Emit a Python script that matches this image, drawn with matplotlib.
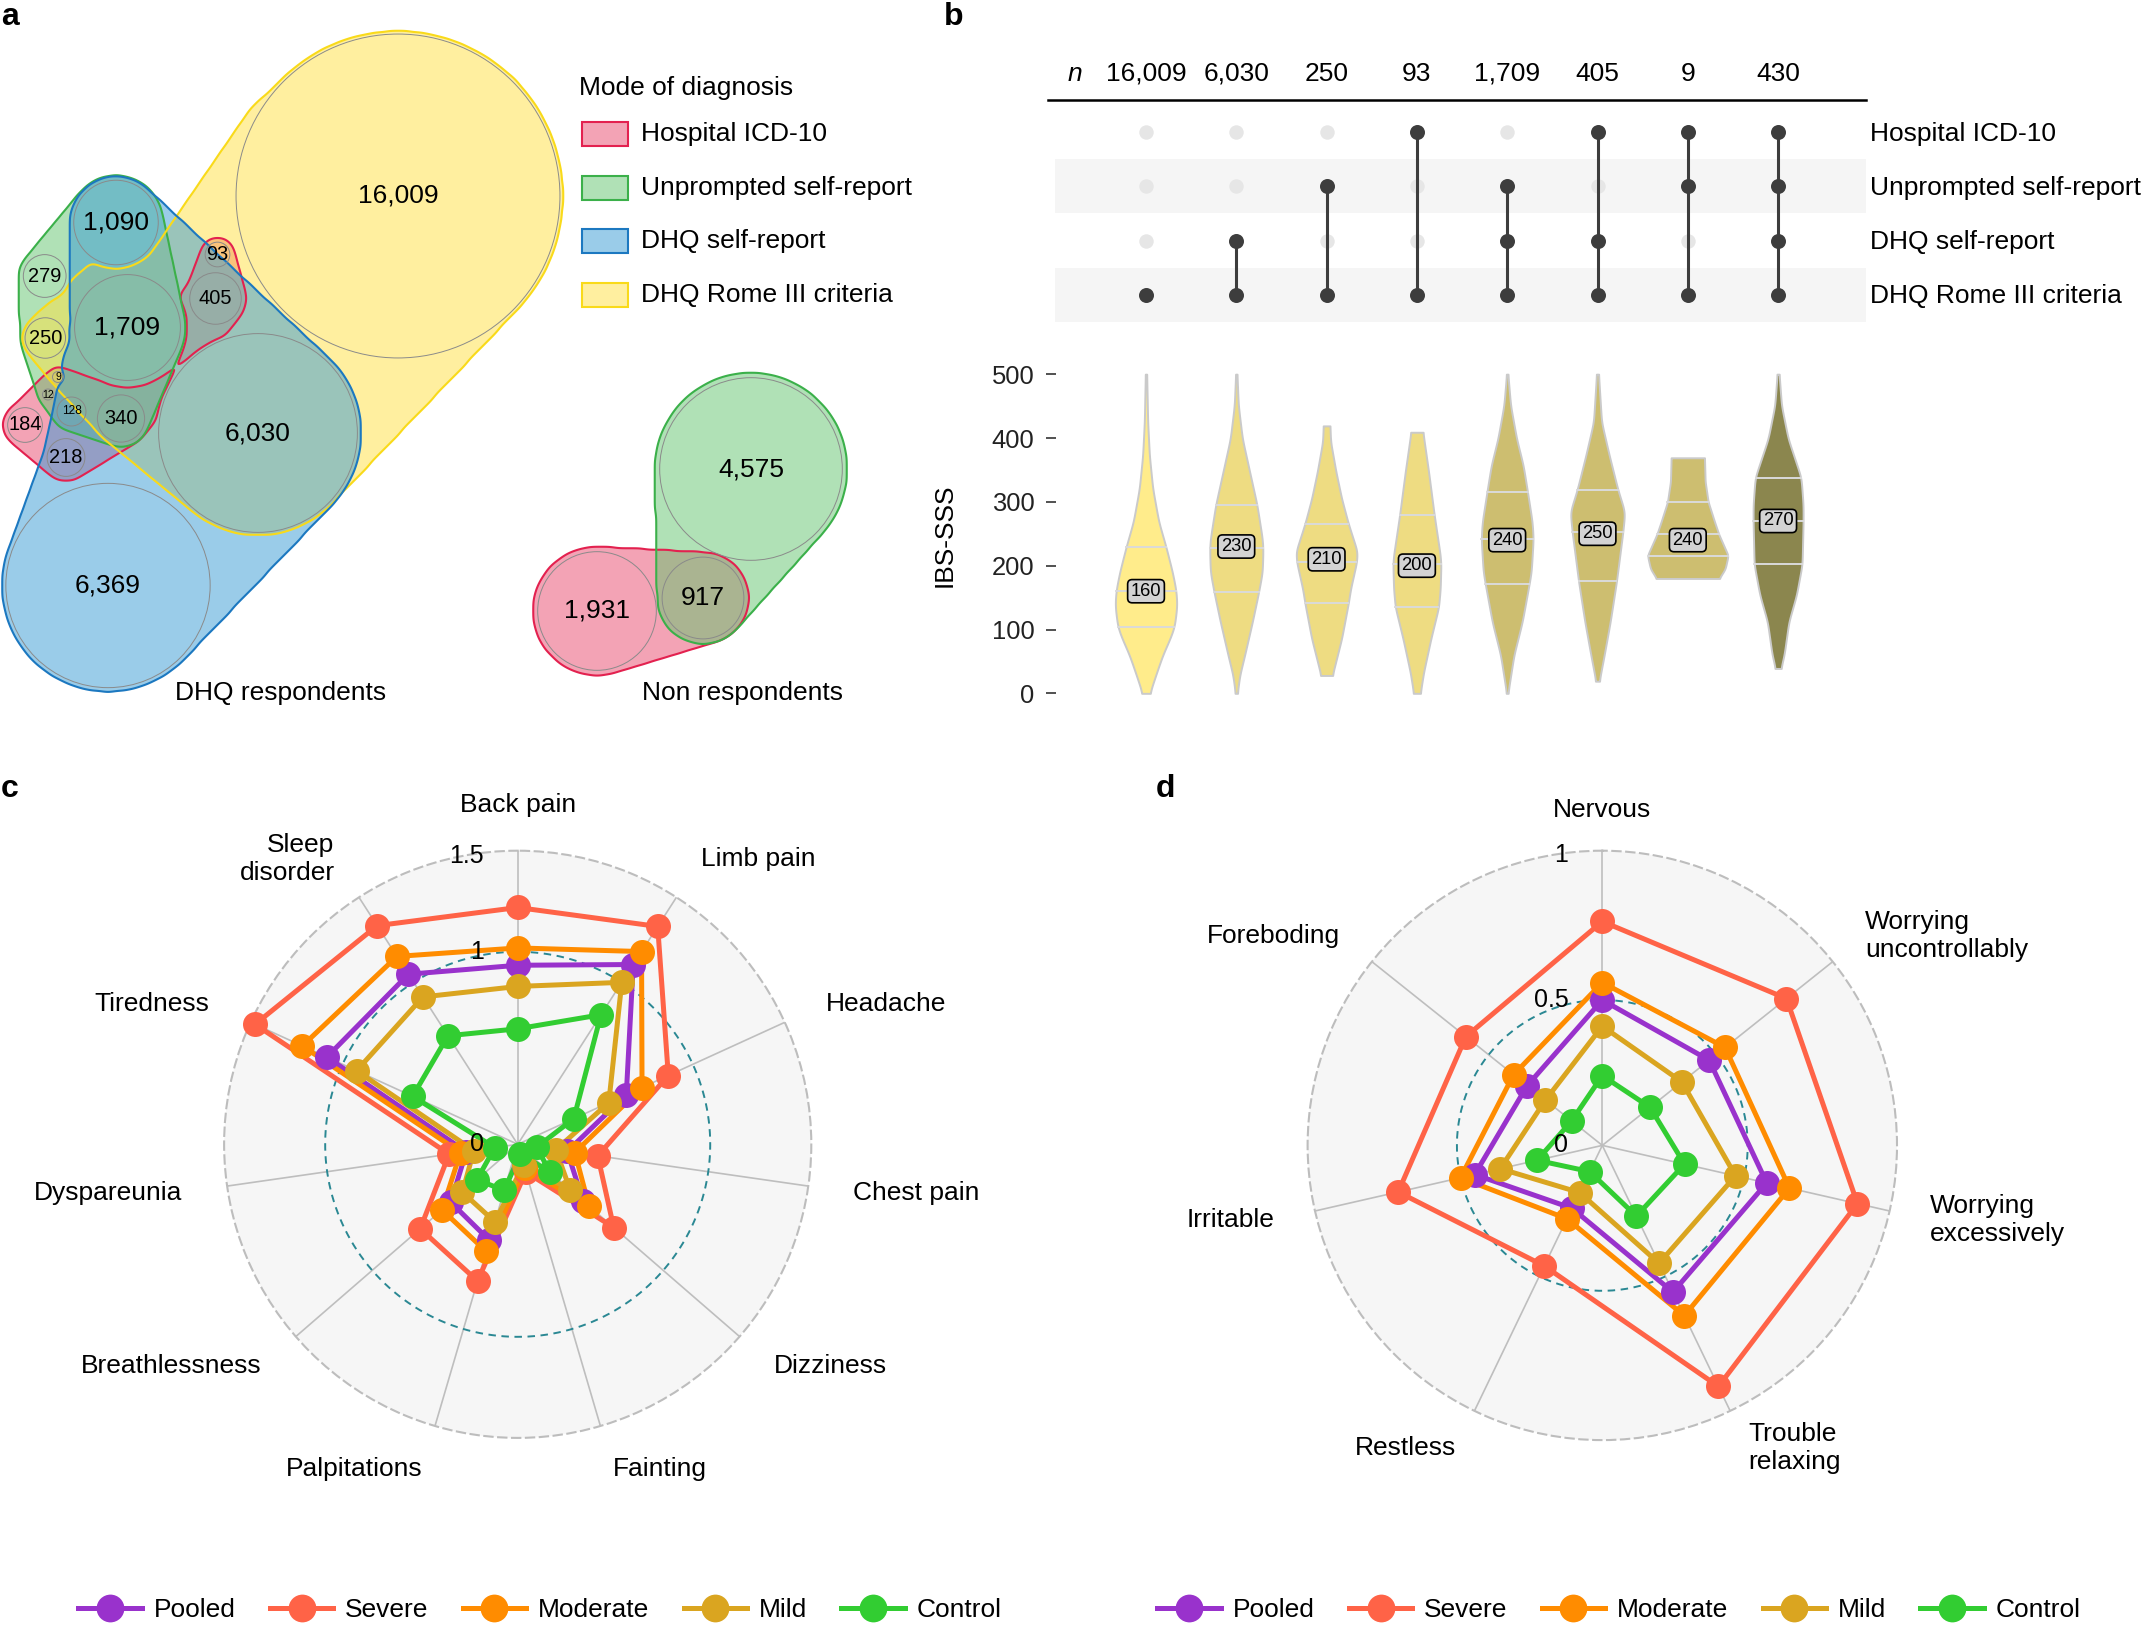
import numpy as np
import matplotlib
matplotlib.use("Agg")
import matplotlib.pyplot as plt
from matplotlib.path import Path
from matplotlib.lines import Line2D
from matplotlib.patches import Rectangle, Circle
from matplotlib.colors import to_rgba

plt.rcParams['font.family'] = ['Liberation Sans', 'DejaVu Sans']
plt.rcParams['lines.scale_dashes'] = False

# ---------------- data: panel a (Euler diagram) ----------------
set_keys = ['H', 'U', 'D', 'R']
set_names = ['Hospital ICD-10', 'Unprompted self-report', 'DHQ self-report', 'DHQ Rome III criteria']
resp_labels = ['16,009', '6,030', '6,369', '1,709', '1,090', '405', '340', '279', '250',
               '218', '184', '128', '93', '12', '9']
resp_counts = [16009, 6030, 6369, 1709, 1090, 405, 340, 279, 250, 218, 184, 128, 93, 12, 9]
nonresp_labels = ['4,575', '1,931', '917']
nonresp_counts = [4575, 1931, 917]

# ---------------- data: panel b (upset + violins) ----------------
combo_n = ['16,009', '6,030', '250', '93', '1,709', '405', '9', '430']
combo_sets = [['R'], ['D', 'R'], ['U', 'R'], ['H', 'R'], ['U', 'D', 'R'], ['H', 'D', 'R'],
              ['H', 'U', 'R'], ['H', 'U', 'D', 'R']]
median_label = [160, 230, 210, 200, 240, 250, 240, 270]
quartiles = [(104, 161, 229), (159, 227, 295), (141, 206, 266), (135, 203, 279),
             (172, 242, 315), (176, 253, 319), (215, 249, 300), (202, 270, 338)]
# violin density profiles: (IBS-SSS value, relative density)
violin_y = [
    [0, 33, 60, 86, 104, 138, 161, 190, 229, 269, 321, 373, 425, 500],
    [0, 28, 60, 112, 159, 190, 227, 242, 295, 347, 399, 451, 500],
    [28, 86, 141, 164, 206, 222, 266, 305, 347, 394, 419],
    [0, 33, 86, 135, 164, 203, 216, 279, 347, 409],
    [0, 60, 112, 172, 190, 242, 268, 315, 357, 399, 451, 500],
    [19, 60, 112, 176, 253, 284, 319, 373, 425, 500],
    [180, 195, 216, 249, 269, 300, 332, 369],
    [39, 60, 112, 154, 202, 269, 295, 338, 399, 451, 500],
]
violin_d = [
    [0.11, 0.32, 0.50, 0.72, 0.85, 0.93, 0.90, 0.79, 0.60, 0.38, 0.20, 0.10, 0.05, 0.02],
    [0.03, 0.10, 0.25, 0.48, 0.67, 0.78, 0.80, 0.78, 0.62, 0.40, 0.18, 0.06, 0.02],
    [0.17, 0.45, 0.65, 0.72, 0.90, 0.92, 0.65, 0.45, 0.28, 0.12, 0.10],
    [0.10, 0.20, 0.42, 0.65, 0.70, 0.72, 0.70, 0.52, 0.35, 0.18],
    [0.02, 0.20, 0.45, 0.66, 0.72, 0.78, 0.75, 0.61, 0.48, 0.28, 0.10, 0.02],
    [0.05, 0.20, 0.38, 0.57, 0.76, 0.82, 0.61, 0.35, 0.12, 0.03],
    [0.94, 1.12, 1.21, 0.93, 0.80, 0.61, 0.52, 0.50],
    [0.08, 0.18, 0.32, 0.55, 0.72, 0.75, 0.75, 0.69, 0.30, 0.10, 0.03],
]

# ---------------- data: panels c, d (radar) ----------------
groups = ['Pooled', 'Severe', 'Moderate', 'Mild', 'Control']
symptom_axes = ['Back pain', 'Limb pain', 'Headache', 'Chest pain', 'Dizziness', 'Fainting',
                'Palpitations', 'Breathlessness', 'Dyspareunia', 'Tiredness', 'Sleep\ndisorder']
somatic_pooled = [0.93, 1.11, 0.62, 0.26, 0.45, 0.12, 0.52, 0.46, 0.27, 1.09, 1.05]
somatic_severe = [1.23, 1.345, 0.86, 0.42, 0.66, 0.15, 0.74, 0.67, 0.36, 1.50, 1.35]
somatic_moderate = [1.02, 1.19, 0.71, 0.30, 0.49, 0.13, 0.58, 0.52, 0.30, 1.23, 1.16]
somatic_mild = [0.82, 1.00, 0.52, 0.20, 0.36, 0.11, 0.42, 0.38, 0.23, 0.92, 0.91]
somatic_control = [0.60, 0.80, 0.32, 0.10, 0.22, 0.05, 0.25, 0.28, 0.12, 0.60, 0.67]

anxiety_axes = ['Nervous', 'Worrying\nuncontrollably', 'Worrying\nexcessively', 'Trouble\nrelaxing',
                'Restless', 'Irritable', 'Foreboding']
anxiety_pooled = [0.50, 0.47, 0.58, 0.56, 0.24, 0.45, 0.33]
anxiety_severe = [0.77, 0.81, 0.90, 0.92, 0.46, 0.72, 0.60]
anxiety_moderate = [0.56, 0.54, 0.66, 0.65, 0.28, 0.50, 0.39]
anxiety_mild = [0.41, 0.35, 0.47, 0.45, 0.18, 0.36, 0.25]
anxiety_control = [0.24, 0.21, 0.29, 0.27, 0.10, 0.23, 0.135]

# ---------------- layout & style ----------------
W, H = 2149, 1628
fig = plt.figure(figsize=(W / 200, H / 200), dpi=200)
FS = 9.5


def px_axes(x0, y0, x1, y1, **kw):
    return fig.add_axes([x0 / W, 1 - y1 / H, (x1 - x0) / W, (y1 - y0) / H], **kw)


set_fill = {'H': '#E9496D', 'U': '#63C56F', 'D': '#379BD5', 'R': '#FFE141'}
set_edge = {'H': '#E3214F', 'U': '#3BB04A', 'D': '#1C78C0', 'R': '#F9DA1A'}
fill_order = ['H', 'U', 'R', 'D']
group_colors = ['#9932CC', '#FF6347', '#FF8C00', '#DAA520', '#32CD32']

# circle centres of the Euler layout (panel pixels)
resp_xy = [(398, 196), (258, 433), (108, 585.5), (127.5, 327.5), (116, 222.5), (215.5, 298.5),
           (121, 418.5), (44.7, 276), (45.3, 338), (66, 457.5), (25, 425), (71.5, 411.5),
           (217.5, 254.5), (48, 394.5), (58, 377)]
nonresp_xy = [(751, 469), (597, 611), (703, 598)]
label_pt = {'405': 7.2, '340': 7.2, '279': 7.2, '250': 7.2, '218': 7.2, '184': 7.2,
            '128': 4.3, '93': 7.2, '12': 3.8, '9': 3.8}

circ = {}
for lab, n, (x, y) in zip(resp_labels, resp_counts, resp_xy):
    circ[lab] = (x, y, max(1.28 * np.sqrt(n), 5.5))
for lab, n, (x, y) in zip(nonresp_labels, nonresp_counts, nonresp_xy):
    circ[lab] = (x, y, 1.35 * np.sqrt(n))

# set outlines: (hull groups, exclusion groups, padding)
resp_shapes = {
    'H': ([('93', '405'), ('405', '340'), ('340', '9', '12'), ('340', '12', '128'),
           ('9', '12', '184'), ('12', '184', '218'), ('12', '128', '218'), ('128', '218', '340')],
          [[('1,709', 7)], [('6,030', 3)], [('250', 3)]], 5),
    'U': ([('1,709', '1,090', '279'), ('1,709', '279', '250'), ('1,709', '250', '12'),
           ('1,709', '12', '128'), ('1,709', '128', '340')],
          [[('184', 3)], [('218', 3)]], 5),
    'R': ([('16,009', '6,030', '1,709'), ('16,009', '1,709', '250'), ('1,709', '250', '9'),
           ('1,709', '9', '340'), ('9', '340', '6,030'), ('1,709', '340', '6,030')],
          [[('1,090', 4), ((240.7, 41.2, 46.2), 0)], [('279', 4)], [('218', 3)], [('184', 3)]], 3),
    'D': ([('1,090', '1,709', '6,030'), ('1,090', '405', '6,030'), ('1,709', '128', '340'),
           ('128', '218', '340'), ('218', '340', '6,030'), ('218', '6,030', '6,369'),
           ('1,709', '340', '6,030')],
          [[('184', 3)], [('279', 4)], [('250', 4)], [('12', 2)], [('9', 1.5)]], 4),
}
nonresp_shapes = {'H': ([('1,931', '917')], [], 5), 'U': ([('4,575', '917')], [], 5)}


def circle_points(x, y, r, n=120):
    t = np.linspace(0, 2 * np.pi, n, endpoint=False)
    return np.column_stack([x + r * np.cos(t), y + r * np.sin(t)])


def convex_hull(pts):
    pts = sorted(map(tuple, pts))

    def cross(o, a, b):
        return (a[0] - o[0]) * (b[1] - o[1]) - (a[1] - o[1]) * (b[0] - o[0])
    lower, upper = [], []
    for p in pts:
        while len(lower) >= 2 and cross(lower[-2], lower[-1], p) <= 0:
            lower.pop()
        lower.append(p)
    for p in reversed(pts):
        while len(upper) >= 2 and cross(upper[-2], upper[-1], p) <= 0:
            upper.pop()
        upper.append(p)
    return np.array(lower[:-1] + upper[:-1])


def hull_mask(circles, gpts):
    pts = np.vstack([circle_points(*c) for c in circles])
    return Path(convex_hull(pts), closed=False).contains_points(gpts)


def blur(a, s):
    k = np.exp(-0.5 * (np.arange(-3 * s, 3 * s + 1) / s) ** 2)
    k /= k.sum()
    a = np.apply_along_axis(lambda r: np.convolve(r, k, mode='same'), 0, a)
    return np.apply_along_axis(lambda r: np.convolve(r, k, mode='same'), 1, a)


# ================= panel a =================
axa = px_axes(0, 0, 872, 706)
axa.set_xlim(0, 872)
axa.set_ylim(706, 0)
axa.axis('off')

step = 1.5
gx = np.arange(0, 872, step)
gy = np.arange(0, 706, step)
GX, GY = np.meshgrid(gx, gy)
gpts = np.column_stack([GX.ravel(), GY.ravel()])

masks = []
for shapes in (resp_shapes, nonresp_shapes):
    for key in fill_order:
        if key not in shapes:
            continue
        hulls, excls, pad = shapes[key]
        m = np.zeros(len(gpts), bool)
        for g in hulls:
            m |= hull_mask([(circ[l][0], circ[l][1], circ[l][2] + pad) for l in g], gpts)
        for g in excls:
            cs = []
            for item, margin in g:
                c = circ[item] if isinstance(item, str) else item
                cs.append((c[0], c[1], c[2] + margin))
            if len(cs) == 1:
                x, y, r = cs[0]
                m &= (gpts[:, 0] - x) ** 2 + (gpts[:, 1] - y) ** 2 > r ** 2
            else:
                m &= ~hull_mask(cs, gpts)
        mm = blur(m.reshape(GX.shape).astype(float), 3)
        masks.append((key, mm))

for key, mm in masks:
    axa.contourf(gx, gy, mm, levels=[0.5, 2], colors=[set_fill[key]], alpha=0.5,
                 antialiased=True, zorder=1)
for key, mm in masks:
    axa.contour(gx, gy, mm, levels=[0.5], colors=[set_edge[key]], linewidths=0.75, zorder=2)

for lab in resp_labels + nonresp_labels:
    x, y, r = circ[lab]
    axa.add_patch(Circle((x, y), r, fill=False, ec='#8A8A8A', lw=0.35, zorder=3))
    axa.text(x, y, lab, ha='center', va='center', fontsize=label_pt.get(lab, FS), zorder=4)

axa.text(281, 693, 'DHQ respondents', ha='center', va='center', fontsize=FS)
axa.text(743, 693, 'Non respondents', ha='center', va='center', fontsize=FS)

axa.text(579, 88, 'Mode of diagnosis', ha='left', va='center', fontsize=FS)
for i, key in enumerate(set_keys):
    yc = 134 + i * 53.7
    axa.add_patch(Rectangle((582, yc - 12), 46, 24, fc=to_rgba(set_fill[key], 0.5),
                            ec=set_edge[key], lw=0.75, zorder=3))
    axa.text(641, yc, set_names[i], ha='left', va='center', fontsize=FS)

# ================= panel b =================
col_px0, col_dx = 1146, 90.3


def xpos(px):
    return (px - col_px0) / col_dx + 1


axm = px_axes(1048, 50, 1866, 322)
axm.set_xlim(xpos(1048), xpos(1866))
axm.set_ylim(4.5, -0.51)
axm.axis('off')
for r in (2, 4):
    axm.add_patch(Rectangle((xpos(1055), r - 0.5), xpos(1866) - xpos(1055), 1,
                            fc='#F5F5F5', ec='none', zorder=0))
cols = np.arange(1, len(combo_n) + 1)
for c, members in zip(cols, combo_sets):
    rows = [set_keys.index(s) + 1 for s in members]
    inactive = [r for r in range(1, 5) if r not in rows]
    axm.plot([c] * len(inactive), inactive, 'o', color='#E6E6E6', ms=5.2, mec='none', zorder=2)
    if len(rows) > 1:
        axm.plot([c, c], [min(rows), max(rows)], color='#3D3D3D', lw=1.1, zorder=2)
    axm.plot([c] * len(rows), rows, 'o', color='#3D3D3D', ms=5.4, mec='none', zorder=3)
    axm.text(c, -0.077, combo_n[c - 1], ha='center', va='center', fontsize=FS)
axm.text(xpos(1075), -0.077, 'n', ha='center', va='center', fontsize=FS, fontstyle='italic')
axm.plot([xpos(1048), xpos(1866)], [0.403, 0.403], color='black', lw=0.9, clip_on=False)
for i, name in enumerate(set_names):
    axm.text(xpos(1870), i + 1.03, name, ha='left', va='center', fontsize=FS, clip_on=False)

axv = px_axes(1056, 361.4, 1866, 706.1)
axv.set_xlim(xpos(1056), xpos(1866))
axv.set_ylim(-20, 520)
for s in axv.spines.values():
    s.set_visible(False)
axv.set_xticks([])
axv.set_yticks(np.arange(0, 501, 100))
axv.tick_params(axis='y', length=3.6, width=0.6, color='#333333', labelsize=9.2,
                labelcolor='#222222', pad=4.2)
axv.set_ylabel('IBS-SSS', fontsize=FS)
axv.yaxis.set_label_coords((957 - 1056) / 810, 0.496)

violin_colors = {1: '#FFEC8B', 2: '#EEDC82', 3: '#CDBE70', 4: '#8B864E'}
dens_to_x = 100 / 3 / col_dx
for c, ys, ds, members, q, lab in zip(cols, violin_y, violin_d, combo_sets, quartiles, median_label):
    ys = np.asarray(ys, float)
    ds = np.asarray(ds, float)
    yy = np.linspace(ys.min(), ys.max(), 300)
    ww = np.interp(yy, ys, ds)
    k = np.exp(-0.5 * (np.arange(-12, 13) / 5.0) ** 2)
    k /= k.sum()
    ww = np.convolve(np.concatenate([np.full(12, ww[0]), ww, np.full(12, ww[-1])]), k, mode='valid')
    hw = ww * dens_to_x
    axv.fill_betweenx(yy, c - hw, c + hw, fc=violin_colors[len(members)], ec='#CACACA', lw=0.7,
                      zorder=2)
    for qv in q:
        h = np.interp(qv, yy, hw)
        axv.plot([c - h, c + h], [qv, qv], color='#DADADA', lw=0.7, zorder=3)
    axv.text(c, lab, str(lab), ha='center', va='center', fontsize=6.6, zorder=4,
             bbox=dict(boxstyle='round,pad=0.17,rounding_size=0.25', fc='#D3D3D3', ec='black', lw=0.6))


# ================= panels c, d =================
def radar(rect, cats, series, rmax, ring, ticks, label_r):
    ax = px_axes(*rect, projection='polar')
    n = len(cats)
    ang = np.arange(n) * 2 * np.pi / n
    ax.set_theta_zero_location('N')
    ax.set_theta_direction(-1)
    ax.set_ylim(0, rmax)
    ax.set_facecolor('#F6F6F6')
    ax.set_xticks(ang)
    ax.set_xticklabels([])
    ax.set_yticks([])
    ax.xaxis.grid(True, color='#BEBEBE', lw=0.6)
    ax.tick_params(axis='x', length=0)
    ax.spines['polar'].set_color('#BDBDBD')
    ax.spines['polar'].set_linewidth(0.75)
    ax.spines['polar'].set_linestyle((0, (3.0, 2.0)))
    th = np.linspace(0, 2 * np.pi, 400)
    ax.plot(th, np.full_like(th, ring), color='#2A8893', lw=0.7, ls=(0, (2.7, 2.0)), zorder=2)
    for vals, col in zip(series, group_colors):
        vv = np.append(vals, vals[0])
        aa = np.append(ang, ang[0])
        ax.plot(aa, vv, '-', color=col, lw=1.8, zorder=3, clip_on=False)
        ax.plot(ang, vals, 'o', color=col, ms=9, mec='none', zorder=4, clip_on=False)
    for tv, tl in ticks:
        ax.annotate(tl, xy=(0, tv), xytext=(-12.2, 0), textcoords='offset points',
                    ha='right', va='center', fontsize=9, zorder=5)
    for a, name in zip(ang, cats):
        deg = np.degrees(a)
        if deg < 1 or abs(deg - 180) < 1:
            ha = 'center'
        elif deg < 180:
            ha = 'left'
        else:
            ha = 'right'
        ax.text(a, label_r, name, ha=ha, va='center', fontsize=FS, multialignment=ha,
                clip_on=False)
    return ax


radar((224.1, 850.7, 811.3, 1437.9), symptom_axes,
      [somatic_pooled, somatic_severe, somatic_moderate, somatic_mild, somatic_control],
      1.525, 1.0, [(1.5, '1.5'), (1.0, '1'), (0.0, '0')], 1.76)
radar((1307.6, 850.7, 1897.0, 1440.1), anxiety_axes,
      [anxiety_pooled, anxiety_severe, anxiety_moderate, anxiety_mild, anxiety_control],
      1.0134, 0.5, [(1.0, '1'), (0.5, '0.5'), (0.0, '0')], 1.155)

handles = [Line2D([], [], color=c, lw=1.8, marker='o', ms=10, mec='none') for c in group_colors]
for cx in (540, 1619):
    fig.legend(handles, groups, loc='center', bbox_to_anchor=(cx / W, 1 - 1610 / H), ncol=5,
               frameon=False, handlelength=2.4, handletextpad=0.45, columnspacing=1.3,
               fontsize=FS, borderpad=0, borderaxespad=0)

# panel letters
for letter, x, y in [('a', 1, 25), ('b', 944, 25), ('c', 1, 797), ('d', 1156, 797)]:
    fig.text(x / W, 1 - y / H, letter, fontsize=11.5, fontweight='bold', ha='left', va='baseline')

fig.savefig('out.png', dpi=200)
